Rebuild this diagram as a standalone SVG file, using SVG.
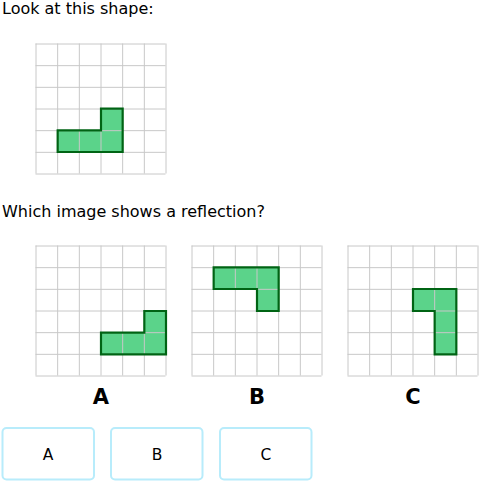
<svg xmlns="http://www.w3.org/2000/svg" width="480" height="482" viewBox="0 0 480 482">
<defs>
<style>
.t{font-family:"DejaVu Sans",Verdana,sans-serif;font-size:16px;fill:#000}
.lbl{font-family:"DejaVu Sans",Verdana,sans-serif;font-size:21px;font-weight:bold;fill:#000;text-anchor:middle}
.btnt{font-family:"DejaVu Sans",Verdana,sans-serif;font-size:15.5px;fill:#000;text-anchor:middle}
.fill{fill:#5bd38a;stroke:none}
.grid{stroke:#c8c8c8;stroke-width:1;fill:none}
.out{fill:none;stroke:#006414;stroke-width:2.2;stroke-linejoin:miter}
.btn{fill:#fff;stroke:#b8ecfb;stroke-width:2}
</style>
<g id="gridlines">
<path class="grid" d="M0 0.5H130M0 22.17H130M0 43.83H130M0 65.5H130M0 87.17H130M0 108.83H130M0 130.5H130M0.5 0V130M22.17 0V130M43.83 0V130M65.5 0V130M87.17 0V130M108.83 0V130M130.5 0V130"/>
</g>
</defs>
<rect width="480" height="482" fill="#fff"/>
<text class="t" x="2" y="14">Look at this shape:</text>
<g id="shape">
<path class="fill" d="M57.67 130.33H101V108.67H122.67V152H57.67Z"/>
<use href="#gridlines" transform="translate(35.5,43.5)"/>
<path class="out" d="M57.67 130.33H101V108.67H122.67V152H57.67Z"/>
</g>
<text class="t" x="2" y="217">Which image shows a reflection?</text>
<g id="optA">
<path class="fill" d="M101 332.67H144.33V311H166V354.33H101Z"/>
<use href="#gridlines" transform="translate(35.5,245.5)"/>
<path class="out" d="M101 332.67H144.33V311H166V354.33H101Z"/>
<text class="lbl" x="101" y="404">A</text>
</g>
<g id="optB">
<path class="fill" d="M213.67 267.33H278.67V311H257V289H213.67Z"/>
<use href="#gridlines" transform="translate(191.5,245.5)"/>
<path class="out" d="M213.67 267.33H278.67V311H257V289H213.67Z"/>
<text class="lbl" x="257" y="404">B</text>
</g>
<g id="optC">
<path class="fill" d="M413 289H456.33V354.33H434.67V311H413Z"/>
<use href="#gridlines" transform="translate(347.5,245.5)"/>
<path class="out" d="M413 289H456.33V354.33H434.67V311H413Z"/>
<text class="lbl" x="413" y="404">C</text>
</g>
<g id="btnA">
<rect class="btn" x="2.5" y="428" width="91.5" height="51.5" rx="4"/>
<text class="btnt" x="48" y="460">A</text>
</g>
<g id="btnB">
<rect class="btn" x="111" y="428" width="91.5" height="51.5" rx="4"/>
<text class="btnt" x="157" y="460">B</text>
</g>
<g id="btnC">
<rect class="btn" x="220" y="428" width="91.5" height="51.5" rx="4"/>
<text class="btnt" x="266" y="460">C</text>
</g>
<g id="connectors"/>
</svg>
